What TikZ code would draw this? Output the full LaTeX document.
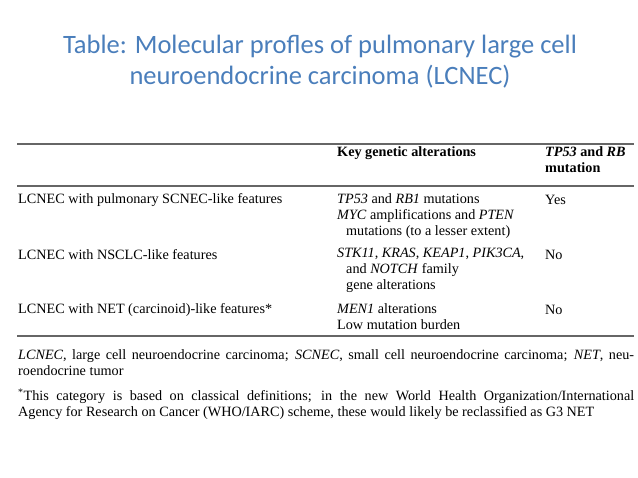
\documentclass[tikz,border=0pt]{standalone}
\usepackage{fontspec}
\setmainfont{Liberation Serif}[ItalicFont=LiberationSerif-Italic,BoldFont=LiberationSerif-Bold,BoldItalicFont=LiberationSerif-BoldItalic]
\newfontfamily\titlefont{Carlito}
\definecolor{ttl}{HTML}{4A7EBB}
\begin{document}
\begin{tikzpicture}[x=1pt,y=-1pt,
  cell/.style={anchor=west,inner sep=0pt,font=\fontsize{14.2}{16}\selectfont},
  bcell/.style={cell,font=\bfseries\fontsize{14.2}{16}\selectfont},
  rule/.style={line width=1.3pt,gray!80!black}]
\useasboundingbox (0,0) rectangle (638,478);
\node[font=\titlefont\fontsize{26.5}{31}\selectfont,text=ttl,align=center] (title) at (320,62)
  {Table: Molecular profles of pulmonary large cell\\neuroendocrine carcinoma (LCNEC)};
\draw[rule] (17,144) -- (634,144);
\draw[rule] (17,186) -- (634,186);
\draw[rule] (17,336) -- (634,336);
\node[bcell] (h2) at (337,153) {Key genetic alterations};
\node[bcell,align=left,anchor=north west] (h3) at (545,146) {\textit{TP53} and \textit{RB}\\mutation};
\node[cell] (r1a) at (18,200) {LCNEC with pulmonary SCNEC-like features};
\node[cell,align=left,anchor=north west] (r1b) at (337,193) {\textit{TP53} and \textit{RB1} mutations\\\textit{MYC} amplifications and \textit{PTEN}\\\hspace*{9pt}mutations (to a lesser extent)};
\node[cell] (r1c) at (545,200) {Yes};
\node[cell] (r2a) at (18,255) {LCNEC with NSCLC-like features};
\node[cell,align=left,anchor=north west] (r2b) at (337,248) {\textit{STK11}, \textit{KRAS}, \textit{KEAP1}, \textit{PIK3CA},\\\hspace*{9pt}and \textit{NOTCH} family\\\hspace*{9pt}gene alterations};
\node[cell] (r2c) at (545,255) {No};
\node[cell] (r3a) at (18,310) {LCNEC with NET (carcinoid)-like features*};
\node[cell,align=left,anchor=north west] (r3b) at (337,303) {\textit{MEN1} alterations\\Low mutation burden};
\node[cell] (r3c) at (545,310) {No};
\node[cell,anchor=north west,text width=616pt,align=justify] (f1) at (18,349)
  {\textit{LCNEC}, large cell neuroendocrine carcinoma; \textit{SCNEC}, small cell neuroendocrine carcinoma; \textit{NET}, neu-\linebreak roendocrine tumor};
\node[cell,anchor=north west,text width=616pt,align=justify] (f2) at (18,389)
  {\textsuperscript{*}This category is based on classical definitions; in the new World Health Organization/International\linebreak Agency for Research on Cancer (WHO/IARC) scheme, these would likely be reclassified as G3 NET};
\end{tikzpicture}
\end{document}
